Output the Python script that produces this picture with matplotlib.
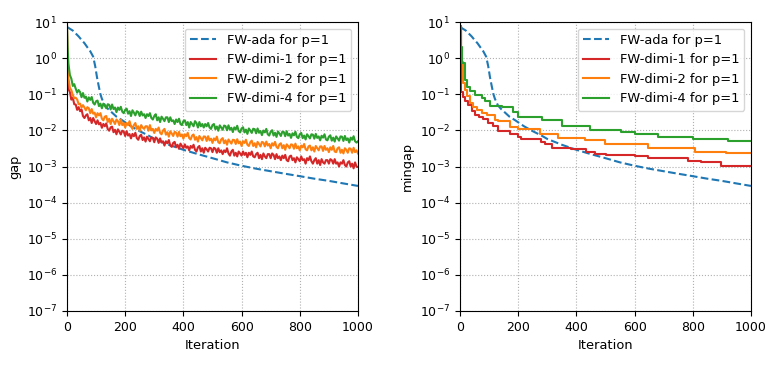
import matplotlib
matplotlib.use("Agg")
import matplotlib.pyplot as plt
from matplotlib.ticker import LogLocator, NullLocator


gap_iters = [0, 2, 5] + list(range(10, 1001, 5))

ada_iters = [0, 20, 40, 50, 60, 70, 80, 90, 97, 103, 109, 115, 120, 130, 140,
             155, 170, 190, 220, 250, 280, 300, 350, 400, 450, 500, 550, 600,
             650, 700, 750, 800, 850, 900, 950, 1000]
ada_gap = [7.3, 5.8, 4.0, 3.2, 2.6, 2.0, 1.55, 1.1, 0.6, 0.3, 0.17, 0.1, 0.075,
           0.05, 0.04, 0.031, 0.024, 0.019, 0.013, 0.0095, 0.0072, 0.0058,
           0.0040, 0.0029, 0.0022, 0.0017, 0.0013, 0.00105, 0.00087, 0.00074,
           0.00063, 0.00054, 0.00046, 0.0004, 0.00034, 0.00029]

dimi1_gap = [
    8.0, 0.30, 0.14,
    0.115, 0.071, 0.081, 0.053, 0.052, 0.037, 0.044, 0.034, 0.038, 0.025,
    0.022, 0.026, 0.028, 0.019, 0.022, 0.016, 0.022, 0.018, 0.015, 0.019,
    0.0147, 0.0161, 0.0118, 0.0151, 0.0130, 0.0156, 0.0109, 0.0098, 0.0121, 0.0127,
    0.0089, 0.0104, 0.0078, 0.0107, 0.0092, 0.0077, 0.0098, 0.0093, 0.0070, 0.0095,
    0.0072, 0.0079, 0.0060, 0.0080, 0.0069, 0.0086, 0.0061, 0.0055, 0.0070, 0.0076,
    0.0054, 0.0064, 0.0049, 0.0067, 0.0058, 0.0050, 0.0064, 0.0062, 0.0047, 0.0064,
    0.0059, 0.0045, 0.0060, 0.0046, 0.0050, 0.0038, 0.0050, 0.0044, 0.0054, 0.0038,
    0.0035, 0.0045, 0.0048, 0.0034, 0.0040, 0.0031, 0.0043, 0.0037, 0.0032, 0.0041,
    0.0033, 0.0036, 0.0028, 0.0037, 0.0033, 0.0040, 0.0029, 0.0026, 0.0034, 0.0037,
    0.0026, 0.0032, 0.0024, 0.0033, 0.0030, 0.0026, 0.0033, 0.0032, 0.0025, 0.0033,
    0.0031, 0.0024, 0.0032, 0.0025, 0.0028, 0.0022, 0.0028, 0.0025, 0.0032, 0.0023,
    0.0020, 0.0026, 0.0029, 0.0020, 0.0024, 0.0019, 0.0026, 0.0023, 0.0020, 0.0026,
    0.0021, 0.0024, 0.0018, 0.0024, 0.0021, 0.0026, 0.0019, 0.0018, 0.0022, 0.0024,
    0.0017, 0.0021, 0.0016, 0.0023, 0.0019, 0.0017, 0.0022, 0.0022, 0.0017, 0.0023,
    0.0021, 0.0016, 0.0022, 0.0017, 0.0019, 0.0015, 0.0020, 0.0017, 0.0021, 0.0015,
    0.0014, 0.0019, 0.0020, 0.0015, 0.0017, 0.0013, 0.0018, 0.0016, 0.0014, 0.0019,
    0.0015, 0.0016, 0.0012, 0.0017, 0.0015, 0.0019, 0.0014, 0.0012, 0.0015, 0.0017,
    0.0012, 0.0015, 0.0011, 0.0016, 0.0013, 0.0012, 0.0015, 0.0015, 0.0012, 0.0016,
    0.0015, 0.0012, 0.0016, 0.0012, 0.0013, 0.0010, 0.0013, 0.0012, 0.0015, 0.0011,
    0.0010, 0.0013, 0.0014, 0.0010, 0.0012, 0.00089, 0.0013, 0.00099, 0.00097]

dimi2_gap = [
    8.0, 0.80, 0.28,
    0.15, 0.13, 0.095, 0.078, 0.080, 0.072, 0.053, 0.055, 0.043, 0.050,
    0.043, 0.036, 0.044, 0.041, 0.030, 0.039, 0.029, 0.031, 0.023, 0.030,
    0.026, 0.030, 0.021, 0.019, 0.024, 0.025, 0.017, 0.021, 0.015, 0.021,
    0.018, 0.015, 0.020, 0.018, 0.014, 0.020, 0.014, 0.016, 0.012, 0.016,
    0.014, 0.018, 0.013, 0.011, 0.014, 0.016, 0.011, 0.013, 0.0097, 0.014,
    0.012, 0.011, 0.013, 0.013, 0.0098, 0.014, 0.010, 0.011, 0.0085, 0.011,
    0.0098, 0.012, 0.0086, 0.0078, 0.0099, 0.011, 0.0076, 0.0089, 0.0067, 0.0094,
    0.0082, 0.0070, 0.0091, 0.0087, 0.0067, 0.0091, 0.0069, 0.0077, 0.0059, 0.0078,
    0.0069, 0.0086, 0.0061, 0.0056, 0.0072, 0.0077, 0.0055, 0.0065, 0.0049, 0.0070,
    0.0061, 0.0053, 0.0068, 0.0067, 0.0051, 0.0069, 0.0053, 0.0059, 0.0045, 0.0060,
    0.0053, 0.0067, 0.0047, 0.0044, 0.0056, 0.0061, 0.0044, 0.0053, 0.0040, 0.0056,
    0.0049, 0.0043, 0.0055, 0.0054, 0.0042, 0.0057, 0.0044, 0.0049, 0.0037, 0.0050,
    0.0045, 0.0055, 0.0040, 0.0037, 0.0047, 0.0052, 0.0037, 0.0044, 0.0034, 0.0048,
    0.0042, 0.0036, 0.0048, 0.0046, 0.0036, 0.0049, 0.0038, 0.0042, 0.0032, 0.0044,
    0.0038, 0.0048, 0.0035, 0.0032, 0.0041, 0.0044, 0.0032, 0.0039, 0.0029, 0.0041,
    0.0037, 0.0032, 0.0041, 0.0040, 0.0031, 0.0043, 0.0032, 0.0036, 0.0028, 0.0038,
    0.0034, 0.0042, 0.0030, 0.0028, 0.0036, 0.0038, 0.0028, 0.0034, 0.0026, 0.0037,
    0.0032, 0.0028, 0.0036, 0.0036, 0.0027, 0.0037, 0.0029, 0.0032, 0.0025, 0.0034,
    0.0029, 0.0037, 0.0026, 0.0025, 0.0032, 0.0034, 0.0024, 0.0029, 0.0023, 0.0032,
    0.0029, 0.0024, 0.0032, 0.0031, 0.0024, 0.0033, 0.0025, 0.0028, 0.0023]

dimi4_gap = [
    8.0, 2.0, 0.70,
    0.34, 0.27, 0.17, 0.19, 0.143, 0.111, 0.131, 0.115, 0.083, 0.108,
    0.080, 0.086, 0.063, 0.082, 0.070, 0.084, 0.058, 0.052, 0.064, 0.067,
    0.047, 0.055, 0.041, 0.055, 0.048, 0.041, 0.053, 0.051, 0.038, 0.052,
    0.039, 0.043, 0.032, 0.043, 0.037, 0.045, 0.033, 0.030, 0.037, 0.040,
    0.029, 0.034, 0.025, 0.036, 0.031, 0.026, 0.034, 0.032, 0.025, 0.033,
    0.026, 0.028, 0.022, 0.028, 0.025, 0.030, 0.022, 0.020, 0.025, 0.028,
    0.019, 0.023, 0.017, 0.024, 0.021, 0.018, 0.023, 0.023, 0.017, 0.023,
    0.018, 0.019, 0.015, 0.020, 0.017, 0.021, 0.015, 0.014, 0.018, 0.019,
    0.014, 0.017, 0.012, 0.017, 0.015, 0.013, 0.018, 0.016, 0.012, 0.017,
    0.013, 0.015, 0.012, 0.015, 0.013, 0.016, 0.012, 0.011, 0.014, 0.015,
    0.0108, 0.0128, 0.0098, 0.0138, 0.0120, 0.0104, 0.0136, 0.0131, 0.0101, 0.0138,
    0.0105, 0.0118, 0.0090, 0.0121, 0.0107, 0.0134, 0.0096, 0.0088, 0.0113, 0.0122,
    0.0088, 0.0105, 0.0080, 0.0113, 0.0099, 0.0085, 0.0111, 0.0108, 0.0083, 0.0113,
    0.0086, 0.0096, 0.0074, 0.0099, 0.0088, 0.0110, 0.0078, 0.0072, 0.0092, 0.0101,
    0.0072, 0.0086, 0.0066, 0.0093, 0.0082, 0.0070, 0.0092, 0.0090, 0.0069, 0.0095,
    0.0072, 0.0080, 0.0062, 0.0083, 0.0073, 0.0092, 0.0066, 0.0061, 0.0078, 0.0085,
    0.0061, 0.0072, 0.0056, 0.0078, 0.0069, 0.0060, 0.0078, 0.0076, 0.0059, 0.0080,
    0.0062, 0.0068, 0.0053, 0.0071, 0.0063, 0.0078, 0.0056, 0.0053, 0.0067, 0.0073,
    0.0052, 0.0063, 0.0049, 0.0068, 0.0060, 0.0052, 0.0068, 0.0067, 0.0051, 0.0070,
    0.0054, 0.0060, 0.0046, 0.0063, 0.0055, 0.0069, 0.0050, 0.0046, 0.0050]

# running minimum of the gap (step changes only)
dimi1_min_iters = [0, 2, 10, 18, 29, 40, 52, 65, 80, 97, 115, 132, 172, 200,
                   211, 280, 291, 315, 383, 434, 463, 503, 600, 646, 783, 829,
                   897, 1000]
dimi1_mingap = [8.0, 0.115, 0.085, 0.065, 0.05, 0.035, 0.026, 0.024, 0.021,
                0.016, 0.013, 0.0095, 0.0078, 0.0066, 0.0056, 0.0047, 0.0042,
                0.0033, 0.003, 0.0025, 0.0022, 0.0021, 0.0019, 0.0017, 0.0014,
                0.0013, 0.00105, 0.00105]

dimi2_min_iters = [0, 3, 11, 18, 25, 35, 45, 58, 75, 93, 121, 131, 171, 200,
                   274, 337, 429, 497, 646, 806, 914, 1000]
dimi2_mingap = [8.0, 0.8, 0.2, 0.13, 0.09, 0.057, 0.045, 0.036, 0.03, 0.026,
                0.019, 0.0185, 0.0124, 0.011, 0.0081, 0.0062, 0.0053, 0.0043,
                0.0033, 0.0026, 0.0023, 0.0023]

dimi4_min_iters = [0, 3, 8, 17, 25, 34, 52, 74, 86, 103, 143, 183, 200, 282,
                   349, 447, 554, 600, 680, 800, 920, 1000]
dimi4_mingap = [8.0, 2.0, 0.72, 0.25, 0.16, 0.12, 0.095, 0.08, 0.066, 0.046,
                0.044, 0.033, 0.024, 0.02, 0.0135, 0.0105, 0.0088, 0.0078,
                0.0066, 0.0058, 0.005, 0.005]

labels = ["FW-ada for p=1", "FW-dimi-1 for p=1", "FW-dimi-2 for p=1",
          "FW-dimi-4 for p=1"]
colors = ["#1f77b4", "#d62728", "#ff7f0e", "#2ca02c"]

plt.rcParams["font.size"] = 9.4
plt.rcParams["xtick.labelsize"] = 9
plt.rcParams["ytick.labelsize"] = 9

fig = plt.figure(figsize=(7.77, 3.67), dpi=100)
ax_gap = fig.add_axes([0.0862, 0.1526, 0.3745, 0.7874])
ax_min = fig.add_axes([0.592, 0.1526, 0.3745, 0.7874])

ax_gap.plot(ada_iters, ada_gap, "--", color=colors[0], label=labels[0])
ax_gap.plot(gap_iters, dimi1_gap, color=colors[1], label=labels[1])
ax_gap.plot(gap_iters, dimi2_gap, color=colors[2], label=labels[2])
ax_gap.plot(gap_iters, dimi4_gap, color=colors[3], label=labels[3])
ax_gap.set_ylabel("gap")

ax_min.plot(ada_iters, ada_gap, "--", color=colors[0], label=labels[0])
ax_min.plot(dimi1_min_iters, dimi1_mingap, color=colors[1], label=labels[1],
            drawstyle="steps-post")
ax_min.plot(dimi2_min_iters, dimi2_mingap, color=colors[2], label=labels[2],
            drawstyle="steps-post")
ax_min.plot(dimi4_min_iters, dimi4_mingap, color=colors[3], label=labels[3],
            drawstyle="steps-post")
ax_min.set_ylabel("mingap")

for ax in (ax_gap, ax_min):
    ax.set_yscale("log")
    ax.set_ylim(1e-7, 1e1)
    ax.set_xlim(0, 1000)
    ax.yaxis.set_major_locator(LogLocator(base=10, numticks=20))
    ax.yaxis.set_minor_locator(NullLocator())
    ax.set_xticks([0, 200, 400, 600, 800, 1000])
    ax.set_xlabel("Iteration")
    ax.grid(True, linestyle=":", color="#b0b0b0", linewidth=0.8)
    ax.legend(loc="upper right", fontsize=9.4)

fig.savefig("out.png", dpi=100)
